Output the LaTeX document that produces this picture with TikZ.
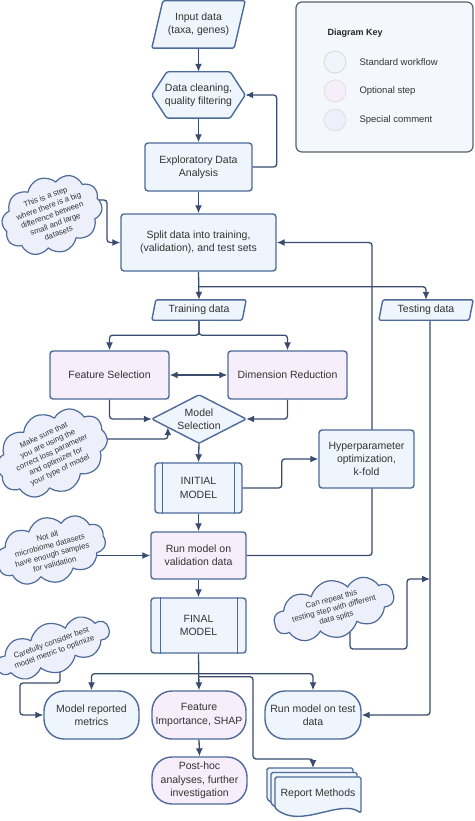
\documentclass[tikz,border=0pt]{standalone}
\usepackage{fontspec}
\setmainfont{Liberation Sans}
\usetikzlibrary{shapes.symbols,shapes.geometric,arrows.meta,calc}
\pgfdeclarelayer{bg}\pgfdeclarelayer{mid}
\pgfsetlayers{bg,mid,main}
\definecolor{edge}{HTML}{4E6A9A}
\definecolor{conn}{HTML}{3A4C6E}
\definecolor{stdfill}{HTML}{EFF5FC}
\definecolor{optfill}{HTML}{F6EEFA}
\definecolor{cloudfill}{HTML}{EDF0FA}
\definecolor{txt}{HTML}{333333}
\definecolor{keyedge}{HTML}{5A616D}
\definecolor{keyfill}{HTML}{F4F8FC}
\begin{document}
\begin{tikzpicture}[x=1pt,y=-1pt,
  txtstyle/.style={text=txt,font=\fontsize{10.5}{13.3}\selectfont,align=center},
  box/.style 2 args={txtstyle,draw=edge,line width=1.4pt,fill=stdfill,rounded corners=3pt,minimum width=#1,minimum height=#2,inner sep=2pt},
  ghost/.style 2 args={txtstyle,minimum width=#1,minimum height=#2,inner sep=0pt},
  shp/.style={draw=edge,line width=1.4pt,fill=stdfill,line join=round,rounded corners=1.5pt},
  inner/.style={draw=edge,line width=1.4pt},
  cl/.style={cloud,cloud puffs=10,cloud puff arc=120,cloud ignores aspect,draw=edge,line width=1.2pt,fill=cloudfill,text=txt,font=\fontsize{7.8}{9.6}\selectfont,align=center,inner sep=0pt},
  arr/.style={draw=conn,line width=1.3pt,-{Latex[length=8pt,width=7pt]},rounded corners=3pt},
  dbl/.style={draw=conn,line width=1.3pt,{Latex[length=8pt,width=7pt]}-{Latex[length=8pt,width=7pt]}},
  keylab/.style={anchor=west,text=txt,font=\fontsize{9.5}{11}\selectfont},
  keydot/.style={circle,minimum size=22pt,inner sep=0pt,line width=0.8pt}
]
\useasboundingbox (0,0) rectangle (474,821);

% ---------- key ----------
\node[draw=keyedge,fill=keyfill,line width=1.2pt,rounded corners=6pt,minimum width=177,minimum height=150,inner sep=0pt] (key) at (384.5,77) {};
\node[anchor=west,text=black!85,font=\bfseries\fontsize{9}{11}\selectfont] (keyt) at (324,33) {Diagram Key};
\node[keydot,draw=black!15,fill=stdfill] (k1) at (335,62) {};
\node[keydot,draw=black!12,fill=optfill] (k2) at (335,91) {};
\node[keydot,draw=black!12,fill=cloudfill] (k3) at (335,120) {};
\node[keylab] (k1t) at (356,62) {Standard workflow};
\node[keylab] (k2t) at (356,91) {Optional step};
\node[keylab] (k3t) at (356,120) {Special comment};

% ---------- nodes ----------
\node[ghost={93}{47}] (inp) at (198.5,24.5) {Input data\\(taxa, genes)};
\node[ghost={93}{46}] (clean) at (198.5,95) {Data cleaning,\\quality filtering};
\node[box={107}{48}] (eda) at (198.5,167) {Exploratory Data\\Analysis};
\node[box={155}{57}] (split) at (198.5,242.5) {Split data into training,\\(validation), and test sets};
\node[ghost={94}{20}] (train) at (199,310) {Training data};
\node[ghost={94}{20}] (test) at (426,310) {Testing data};
\node[box={119}{48},fill=optfill] (fs) at (109.5,375) {Feature Selection};
\node[box={119}{48},fill=optfill] (dr) at (287.5,375) {Dimension Reduction};
\node[ghost={94}{48}] (ms) at (199,419) {Model\\Selection};
\node[box={87}{50}] (init) at (198.5,488) {INITIAL\\MODEL};
\node[box={95}{58}] (hyp) at (366.5,459) {Hyperparameter\\optimization,\\k-fold};
\node[box={95}{47},fill=optfill] (runval) at (198.5,555.5) {Run model on\\validation data};
\node[box={95}{55}] (final) at (198.5,625.5) {FINAL\\MODEL};
\node[box={95}{48},rounded corners=20pt] (mrm) at (91.5,715) {Model reported\\metrics};
\node[box={94}{48},rounded corners=20pt,fill=optfill] (fi) at (199,715) {Feature\\Importance, SHAP};
\node[box={96}{48},rounded corners=20pt] (rmt) at (313,715) {Run model on test\\data};
\node[box={95}{47},rounded corners=20pt,fill=optfill] (post) at (199.5,780.5) {Post-hoc\\analyses, further\\investigation};
\node[txtstyle] (rep) at (318,794) {Report Methods};

\draw[inner] ([xshift=8pt]init.north west) -- ([xshift=8pt]init.south west);
\draw[inner] ([xshift=-8pt]init.north east) -- ([xshift=-8pt]init.south east);
\draw[inner] ([xshift=10pt]final.north west) -- ([xshift=10pt]final.south west);
\draw[inner] ([xshift=-9pt]final.north east) -- ([xshift=-9pt]final.south east);

% ---------- clouds ----------
\node[cl,rotate=20,minimum width=100,minimum height=70] (c1) at (52,215) {This is a step\\where there is a big\\difference between\\small and large\\datasets};
\node[cl,rotate=25,minimum width=104,minimum height=66] (c2) at (52,453) {Make sure that\\you are using the\\correct loss parameter\\and optimizer for\\your type of model};
\node[cl,rotate=15,minimum width=98,minimum height=56] (c3) at (51,550) {Not all\\microbiome datasets\\have enough samples\\for validation};
\node[cl,rotate=15,minimum width=110,minimum height=44] (c4) at (334,609) {Can repeat this\\testing step with different\\data splits};
\node[cl,rotate=20,minimum width=110,minimum height=50] (c5) at (53,648) {Carefully consider best\\model metric to optimize};

% ---------- custom shapes ----------
\begin{pgfonlayer}{mid}
\draw[shp] ([xshift=11pt]inp.north west) -- (inp.north east) -- ([xshift=-11pt]inp.south east) -- (inp.south west) -- cycle;
\draw[shp] (clean.west) -- ([xshift=15pt]clean.north west) -- ([xshift=-15pt]clean.north east) -- (clean.east) -- ([xshift=-15pt]clean.south east) -- ([xshift=15pt]clean.south west) -- cycle;
\draw[shp] ([xshift=4pt]train.north west) -- (train.north east) -- ([xshift=-4pt]train.south east) -- (train.south west) -- cycle;
\draw[shp] ([xshift=4pt]test.north west) -- (test.north east) -- ([xshift=-4pt]test.south east) -- (test.south west) -- cycle;
\draw[shp] (ms.west) -- (ms.north) -- (ms.east) -- (ms.south) -- cycle;
\foreach \dx/\dy in {-8/-9,-4/-4.5,0/0}{
  \begin{scope}[shift={(\dx,\dy)}]
  \draw[shp] (275,777) -- (361,777) -- (361,813) .. controls (340,798) and (300,830) .. (275,808) -- cycle;
  \end{scope}
}
\end{pgfonlayer}

% ---------- connectors ----------
\coordinate (c1o) at (85,200);
\coordinate (c2o) at (85,439);
\coordinate (c3o) at (85,555.5);
\coordinate (c4o) at (350,620);
\coordinate (c5o) at (60,665);
\coordinate (hv) at (372,242.5);
\coordinate (tl) at (430,579);
\coordinate (reptop) at (313,768);
\begin{pgfonlayer}{bg}
\draw[arr] (inp.south) -- (clean.north);
\draw[arr] (clean.south) -- (eda.north);
\draw[arr] (eda.east) -- ++(24,0) |- (clean.east);
\draw[arr] (eda.south) -- (split.north);
\draw[arr] (c1o) -- (107,200) |- (split.west);
\draw[arr] (runval.east) -| (hv) -- (split.east);
\draw[arr] (split.south) -- (train.north);
\draw[arr] ($(split.south)+(0,15)$) -| (test.north);
\draw[arr] (train.south) -- ++(0,15) -| (fs.north);
\draw[arr] (train.south) -- ++(0,15) -| (dr.north);
\draw[dbl] (fs.east) -- (dr.west);
\draw[arr] (fs.south) |- (ms.west);
\draw[arr] (dr.south) |- (ms.east);
\draw[arr] (c2o) -| ($(ms.west)!0.34!(ms.south)$);
\draw[arr] (ms.south) -- (init.north);
\draw[arr] (init.east) -- ++(39,0) |- (hyp.west);
\draw[arr] (init.south) -- (runval.north);
\draw[arr] (c3o) -- (runval.west);
\draw[arr] (runval.south) -- (final.north);
\draw[arr] (c4o) |- (407,649) |- (tl);
\draw[arr] ($(test.south)+(4,0)$) |- (rmt.east);
\draw[arr] ($(final.south)+(0,20)$) -| (mrm.north);
\draw[arr] ($(final.south)+(0,20)$) -| (rmt.north);
\draw[arr] (final.south) -- (fi.north);
\draw[arr] ($(final.south)+(0,23)$) -| (253,759) -| (reptop);
\draw[arr] (c5o) -- ++(0,18) -| (20,715) -- (mrm.west);
\draw[arr] (fi.south) -- (post.north);
\end{pgfonlayer}
\end{tikzpicture}
\end{document}
